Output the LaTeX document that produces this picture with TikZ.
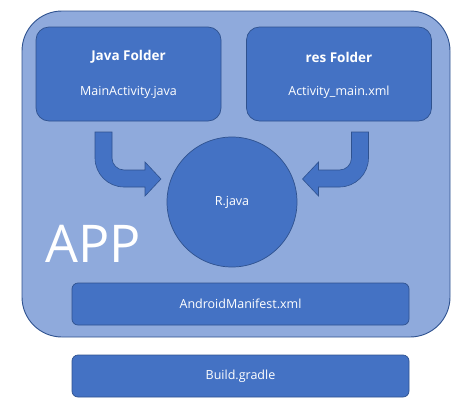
\documentclass[tikz,border=0pt]{standalone}
\usepackage{fontspec}
\setmainfont{Open Sans}
\definecolor{outerfill}{HTML}{8FAADC}
\definecolor{innerfill}{HTML}{4472C4}
\definecolor{edgecol}{HTML}{2F528F}
\tikzset{
  appbox/.style={draw=edgecol, line width=0.9pt, fill=outerfill, rounded corners=40pt, inner sep=0pt},
  folderbox/.style={draw=edgecol, line width=0.7pt, fill=innerfill, rounded corners=13pt, inner sep=0pt},
  barbox/.style={draw=edgecol, line width=0.7pt, fill=innerfill, rounded corners=6pt, inner sep=0pt,
    minimum width=337pt, minimum height=42pt, text=white, font=\fontsize{12.5}{15}\selectfont},
  rnode/.style={circle, draw=edgecol, line width=0.7pt, fill=innerfill, minimum size=130pt, inner sep=0pt,
    text=white, font=\fontsize{12.5}{15}\selectfont},
  titletxt/.style={text=white, font=\fontsize{13.5}{16}\selectfont\bfseries, inner sep=0pt},
  filetxt/.style={text=white, font=\fontsize{12.5}{15}\selectfont, inner sep=0pt},
  bentarrow/.pic={
    \fill[innerfill, draw=edgecol, line width=0.6pt]
      (0,0) -- (17,0) -- (17,26) .. controls (17,32.6) and (22.4,38) .. (29,38)
      -- (50,38) -- (50,30) -- (66,47) -- (50,64) -- (50,55) -- (29,55)
      .. controls (13,55) and (0,42) .. (0,26) -- cycle;
  }
}
\begin{document}
\begin{tikzpicture}[x=1pt,y=-1pt]
\useasboundingbox (0,0) rectangle (474,410);
\node[appbox, minimum width=428pt, minimum height=326pt] (app) at (236,174) {};
\node[folderbox, minimum width=185pt, minimum height=94pt] (java) at (128.5,74) {};
\node[folderbox, minimum width=185pt, minimum height=94pt] (res) at (339,74) {};
\node[titletxt] (javat) at (128.5,57) {Java Folder};
\node[filetxt] (javaf) at (128.5,92) {MainActivity.java};
\node[titletxt] (rest) at (339,57) {res Folder};
\node[filetxt] (resf) at (339,92) {Activity\_main.xml};
\pic at (95,132) {bentarrow};
\pic[xscale=-1] at (368.5,132) {bentarrow};
\node[rnode] (r) at (232,202) {R.java};
\node[text=white, font=\fontsize{52}{60}\selectfont, anchor=base west, inner sep=0pt] (apptxt) at (45,262) {APP};
\node[barbox] (manifest) at (240.5,304) {AndroidManifest.xml};
\node[barbox] (gradle) at (240.5,376) {Build.gradle};
\end{tikzpicture}
\end{document}
